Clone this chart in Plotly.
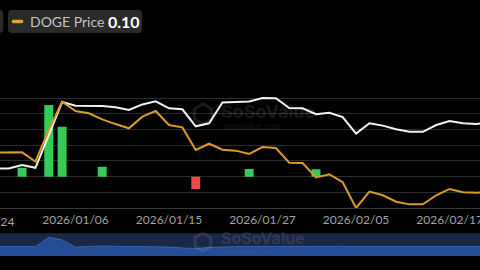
import plotly.graph_objects as go

# ---------------- data ----------------
dates = [
    "2025/12/24", "2025/12/26", "2025/12/29", "2025/12/30", "2025/12/31",
    "2026/01/02", "2026/01/05", "2026/01/06", "2026/01/07", "2026/01/08",
    "2026/01/09", "2026/01/12", "2026/01/13", "2026/01/14", "2026/01/15",
    "2026/01/16", "2026/01/20", "2026/01/21", "2026/01/22", "2026/01/23",
    "2026/01/26", "2026/01/27", "2026/01/28", "2026/01/29", "2026/01/30",
    "2026/02/02", "2026/02/03", "2026/02/04", "2026/02/05", "2026/02/06",
    "2026/02/09", "2026/02/10", "2026/02/11", "2026/02/12", "2026/02/13",
    "2026/02/17", "2026/02/18", "2026/02/19", "2026/02/20",
]

# daily net inflow (M USD)
net_inflow = [
    0, 0, 0, 0.57, 0,
    4.56, 3.18, 0, 0, 0.64,
    0, 0, 0, 0, 0,
    0, -0.78, 0, 0, 0,
    0.49, 0, 0, 0, 0,
    0.47, 0, 0, 0, 0,
    0, 0, 0, 0, 0,
    0, 0, 0, 0,
]

# total net assets (M USD)
net_assets = [
    2.53, 2.53, 2.53, 2.76, 2.58,
    4.66, 6.76, 6.53, 6.51, 6.51,
    6.43, 6.26, 6.61, 6.81, 6.36,
    6.30, 5.22, 5.41, 6.73, 6.75,
    6.80, 7.02, 7.00, 6.38, 6.36,
    5.99, 6.08, 5.81, 4.75, 5.41,
    5.26, 5.03, 4.87, 4.87, 5.30,
    5.56, 5.41, 5.36, 5.49,
]

# DOGE price (USD)
doge_price = [
    0.1255, 0.1255, 0.1256, 0.1256, 0.1198,
    0.1398, 0.1578, 0.1519, 0.1505, 0.1466,
    0.1436, 0.1409, 0.1483, 0.1519, 0.1430,
    0.1415, 0.1271, 0.1311, 0.1273, 0.1267,
    0.1246, 0.1290, 0.1284, 0.1190, 0.1188,
    0.1096, 0.1116, 0.1066, 0.0902, 0.1006,
    0.0983, 0.0942, 0.0925, 0.0925, 0.0983,
    0.1023, 0.1002, 0.0999, 0.1007,
]

# navigator series (arbitrary units)
navigator = [
    9.3, 9.5, 9.3, 9.4, 9.3,
    18.7, 16.0, 8.8, 9.5, 10.0,
    9.6, 9.5, 9.3, 9.3, 9.0,
    8.0, 7.5, 8.5, 9.3, 9.4,
    9.4, 9.5, 9.5, 9.6, 9.8,
    10.0, 10.0, 9.6, 9.3, 9.3,
    9.3, 9.3, 9.4, 9.3, 9.3,
    9.3, 9.3, 9.3, 9.3,
]

tick_dates = ["2025/12/24", "2026/01/06", "2026/01/15",
              "2026/01/27", "2026/02/05", "2026/02/17"]

legend_name = "DOGE Price"
legend_value = "0.10"

# ---------------- style ----------------
W, H = 480, 270
GOLD = "#d99b2b"
WHITE = "#f2f2f2"
GREEN = "#33cc58"
RED = "#f04848"
GRID = "#2c2c2c"
FONT = "Lato"

# visible window, in category-index units (index 0 = first date)
X_RANGE = [1.349, 37.277]


def px(x):
    return x / W


def py(y):
    return 1 - y / H


def rrect(x0, y0, x1, y1, r):
    return (f"M {px(x0 + r)},{py(y0)} L {px(x1 - r)},{py(y0)} "
            f"Q {px(x1)},{py(y0)} {px(x1)},{py(y0 + r)} "
            f"L {px(x1)},{py(y1 - r)} Q {px(x1)},{py(y1)} {px(x1 - r)},{py(y1)} "
            f"L {px(x0 + r)},{py(y1)} Q {px(x0)},{py(y1)} {px(x0)},{py(y1 - r)} "
            f"L {px(x0)},{py(y0 + r)} Q {px(x0)},{py(y0)} {px(x0 + r)},{py(y0)} Z")


def hexagon(cx, cy, r):
    import math
    pts = []
    for i in range(6):
        a = math.pi / 6 + i * math.pi / 3
        pts.append((px(cx + r * math.cos(a)), py(cy + r * math.sin(a))))
    return "M " + " L ".join(f"{a},{b}" for a, b in pts) + " Z"


fig = go.Figure()

bar_colors = [GREEN if v >= 0 else RED for v in net_inflow]
fig.add_trace(go.Bar(x=dates, y=net_inflow, marker=dict(color=bar_colors, line=dict(width=0)),
                     xaxis="x", yaxis="y", name="Net Inflow"))
fig.add_trace(go.Scatter(x=dates, y=net_assets, mode="lines",
                         line=dict(color=WHITE, width=2), xaxis="x", yaxis="y2",
                         name="Total Net Assets"))
fig.add_trace(go.Scatter(x=dates, y=doge_price, mode="lines",
                         line=dict(color=GOLD, width=2), xaxis="x", yaxis="y3",
                         name=legend_name))
fig.add_trace(go.Scatter(x=dates, y=navigator, mode="lines", fill="tozeroy",
                         fillcolor="#244c94", line=dict(color="#3566b8", width=1),
                         xaxis="x2", yaxis="y4", name="nav"))

main_dom = [py(208.3), py(92)]
nav_dom = [py(256), py(233.3)]

fig.update_layout(
    width=W, height=H,
    margin=dict(l=0, r=0, t=0, b=0, autoexpand=False),
    paper_bgcolor="#000000", plot_bgcolor="#000000",
    showlegend=False,
    bargap=0.33,
    font=dict(family=FONT, color="#a0a0a0", size=12),
    xaxis=dict(type="category", range=X_RANGE, domain=[0, 1], anchor="y",
               tickmode="array", tickvals=tick_dates, ticktext=tick_dates,
               showgrid=False, showline=True, linecolor="#383838", linewidth=1,
               ticks="", tickfont=dict(family=FONT, size=12, color="#a3a3a3"),
               zeroline=False, automargin=False),
    yaxis=dict(domain=main_dom, range=[-2.011, 5.390], tick0=0, dtick=1,
               showgrid=True, gridcolor=GRID, gridwidth=1, zeroline=False,
               showticklabels=False, ticks="", automargin=False),
    yaxis2=dict(overlaying="y", range=[0, 7.401], visible=False, showgrid=False),
    yaxis3=dict(overlaying="y", range=[0.09, 0.16401], visible=False, showgrid=False),
    xaxis2=dict(type="category", range=X_RANGE, domain=[0, 1], anchor="y4",
                showgrid=False, showticklabels=False, ticks="", showline=False,
                zeroline=False),
    yaxis4=dict(domain=nav_dom, range=[0, 22.7], visible=False, showgrid=False),
)

shapes = [
    # navigator background band
    dict(type="rect", xref="paper", yref="paper", x0=0, x1=1,
         y0=nav_dom[0], y1=nav_dom[1], fillcolor="#1a2843", line=dict(width=0),
         layer="below"),
    # legend boxes
    dict(type="path", xref="paper", yref="paper", path=rrect(-20, 10, 3.3, 33, 4),
         fillcolor="#2a2a2a", line=dict(width=0)),
    dict(type="path", xref="paper", yref="paper", path=rrect(8, 10, 142, 33, 4),
         fillcolor="#2a2a2a", line=dict(width=0)),
    dict(type="path", xref="paper", yref="paper", path=rrect(11.7, 19.8, 23.3, 23.2, 1.6),
         fillcolor="#e3a532", line=dict(width=0)),
    # watermark logos
    dict(type="path", xref="paper", yref="paper", path=hexagon(203, 114, 10),
         fillcolor="rgba(0,0,0,0)", line=dict(color="rgba(255,255,255,0.11)", width=3)),
    dict(type="path", xref="paper", yref="paper", path=hexagon(203, 242, 9),
         fillcolor="rgba(0,0,0,0)", line=dict(color="rgba(255,255,255,0.10)", width=3)),
]
fig.update_layout(shapes=shapes)

first_idx = dates.index(tick_dates[0])
cut_x = (first_idx - X_RANGE[0]) / (X_RANGE[1] - X_RANGE[0])
annotations = [
    dict(xref="paper", yref="paper", x=px(28), y=py(21.8), xanchor="left", yanchor="middle",
         text=legend_name, showarrow=False,
         font=dict(family=FONT, size=14, color="#c4c4c4")),
    dict(xref="paper", yref="paper", x=px(106), y=py(21.3), xanchor="left", yanchor="middle",
         text=f"<b>{legend_value}</b>", showarrow=False,
         font=dict(family=FONT, size=16, color="#ffffff")),
    # partially visible first tick label
    dict(xref="paper", yref="paper", x=cut_x, y=py(221), xanchor="center", yanchor="middle",
         text=tick_dates[0], showarrow=False,
         font=dict(family=FONT, size=12, color="#a3a3a3")),
    # watermarks
    dict(xref="paper", yref="paper", x=px(219), y=py(111), xanchor="left", yanchor="middle",
         text="<b>SoSoValue</b>", showarrow=False,
         font=dict(family="Inter", size=18, color="rgba(255,255,255,0.11)")),
    dict(xref="paper", yref="paper", x=px(222), y=py(126), xanchor="left", yanchor="middle",
         text="sosovalue.com", showarrow=False,
         font=dict(family="Inter", size=8, color="rgba(255,255,255,0.10)")),
    dict(xref="paper", yref="paper", x=px(219), y=py(238), xanchor="left", yanchor="middle",
         text="<b>SoSoValue</b>", showarrow=False,
         font=dict(family="Inter", size=16, color="rgba(255,255,255,0.10)")),
    dict(xref="paper", yref="paper", x=px(222), y=py(251), xanchor="left", yanchor="middle",
         text="sosovalue.com", showarrow=False,
         font=dict(family="Inter", size=7, color="rgba(255,255,255,0.08)")),
]
fig.update_layout(annotations=annotations)

fig.write_html("out.html")
